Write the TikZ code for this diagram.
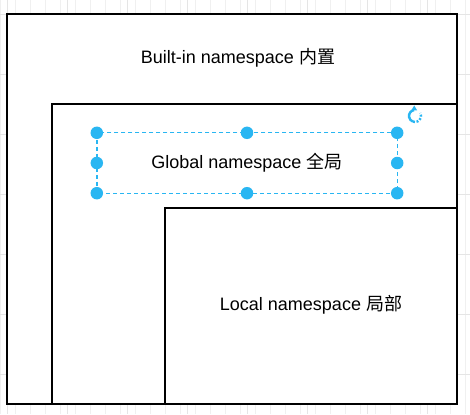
\documentclass[tikz,border=0pt]{standalone}
\usepackage{fontspec}
\setmainfont{Liberation Sans}
\newfontfamily\cjk{Noto Sans CJK SC}
\usetikzlibrary{arrows.meta,calc}
\definecolor{selblue}{HTML}{29B6F2}
\begin{document}
\begin{tikzpicture}[x=1pt,y=-1pt,
  nsbox/.style={draw=black,fill=white,line width=1.2pt},
  lbl/.style={font=\fontsize{18}{21}\selectfont, inner sep=0pt},
  handle/.style={circle,fill=selblue,inner sep=0pt,minimum size=12.5pt},
  selline/.style={draw=selblue,line width=1.4pt,dash pattern=on 4pt off 3pt}]
\useasboundingbox (0,0) rectangle (470,414);
\fill[white] (0,0) rectangle (470,414);
% canvas grid
\draw[black!6,line width=0.6pt] (-8,-1) grid[step=15] (470,414);
\foreach \x in {7,67,...,467} \draw[black!10,line width=0.6pt] (\x,0) -- (\x,414);
\foreach \y in {14,74,...,414} \draw[black!10,line width=0.6pt] (0,\y) -- (470,\y);
% namespaces
\draw[nsbox] (7,14) rectangle (457,404);
\draw[nsbox] (52,104) rectangle (457,404);
\draw[nsbox] (165,208) rectangle (457,404);
\node[lbl] (builtin) at (238,58) {Built-in namespace {\cjk 内置}};
\node[lbl] (local) at (311,305) {Local namespace {\cjk 局部}};
% selected global label
\node[lbl,minimum width=300pt,minimum height=60pt] (global) at (247,163) {Global namespace {\cjk 全局}};
\draw[selline] (global.north west) rectangle (global.south east);
\foreach \a in {north west,north,north east,west,east,south west,south,south east}
  \node[handle] at (global.\a) {};
% rotate icon
\coordinate (rot) at (415,116);
\draw[selblue,line width=2.4pt] ([shift={(-100:6)}]rot) arc[start angle=-100,end angle=-250,radius=6];
\draw[selblue,line width=2.4pt,dash pattern=on 2pt off 1.6pt] ([shift={(110:6)}]rot) arc[start angle=110,end angle=-30,radius=6];
\fill[selblue] ($(rot)+(-3.8,-5.5)$) -- ++(6,0) -- ++(-3,-5) -- cycle;
\end{tikzpicture}
\end{document}
